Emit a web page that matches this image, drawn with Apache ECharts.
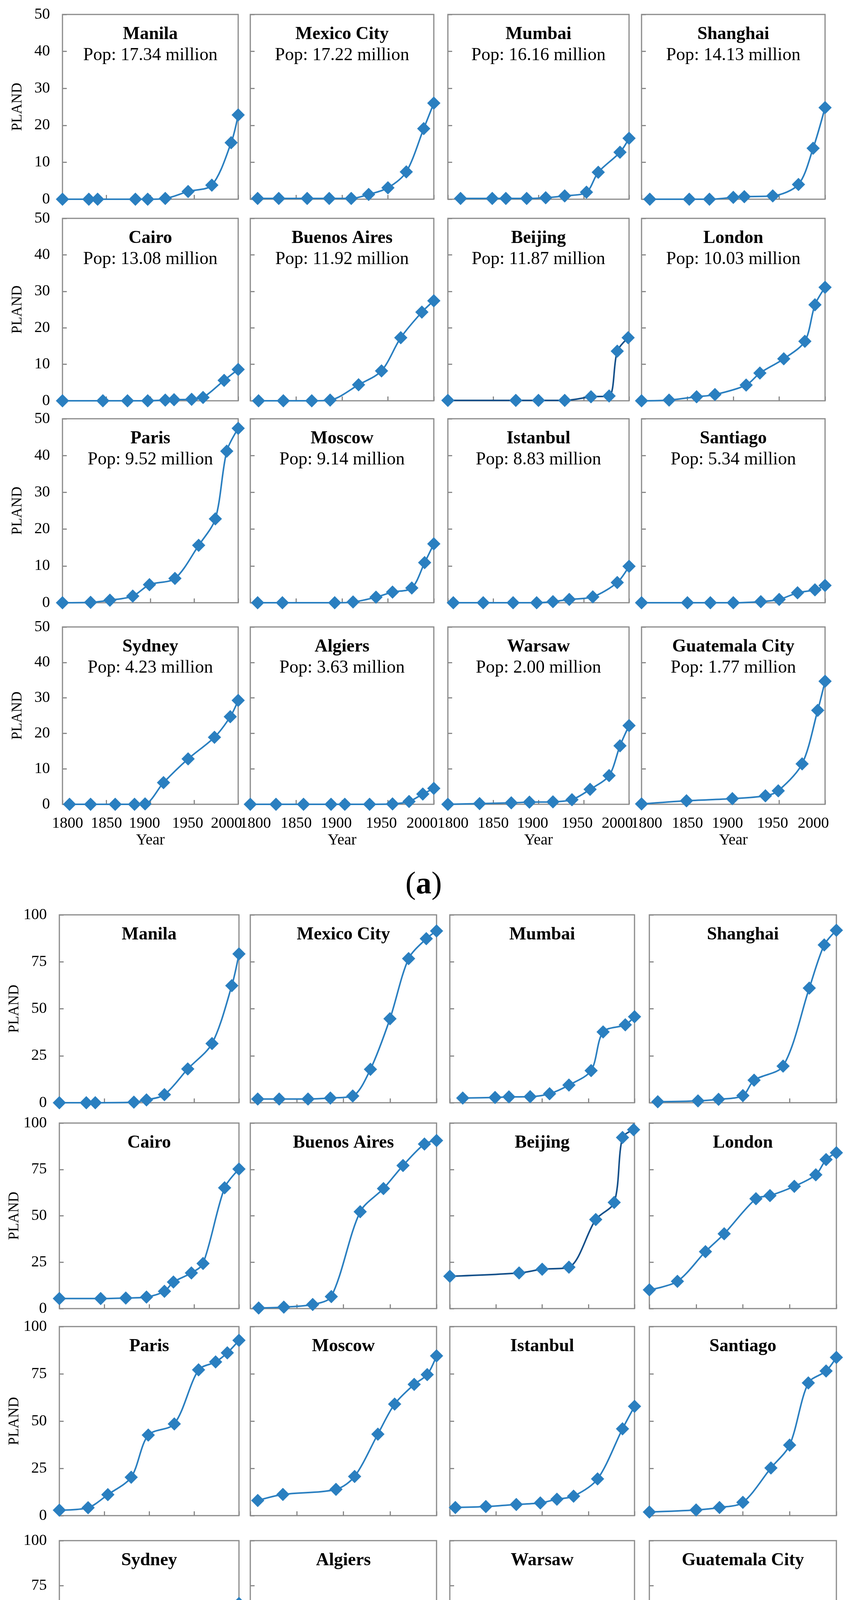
<!DOCTYPE html>
<html>
<head>
<meta charset="utf-8">
<title>PLAND by city</title>
<script src="https://cdn.jsdelivr.net/npm/echarts@6/dist/echarts.min.js"></script>
<style>
html, body { margin: 0; padding: 0; background: #fff; }
#chart { width: 2182px; height: 4659px; }
</style>
</head>
<body>
<div id="chart"></div>
<script>
// city names and population (panel a subtitles)
var cityNames = ['Manila', 'Mexico City', 'Mumbai', 'Shanghai', 'Cairo', 'Buenos Aires', 'Beijing', 'London',
    'Paris', 'Moscow', 'Istanbul', 'Santiago', 'Sydney', 'Algiers', 'Warsaw', 'Guatemala City'];
var cityPops = ['17.34', '17.22', '16.16', '14.13', '13.08', '11.92', '11.87', '10.03',
    '9.52', '9.14', '8.83', '5.34', '4.23', '3.63', '2.00', '1.77'];

// x tick labels / y ticks
var yearTicks = [1800, 1850, 1900, 1950, 2000];
var yTicksA = [0, 10, 20, 30, 40, 50];
var yTicksB = [0, 25, 50, 75, 100];

// years of each city, values for panel (a) and panel (b)
var manilaYears = [1800, 1830, 1840, 1883, 1897, 1917, 1943, 1970, 1992, 2000];
var manilaA = [0, 0, 0, 0, 0, 0.2, 2.1, 3.8, 15.3, 22.8];
var manilaB = [0, 0, 0, 0.3, 1.5, 4.3, 18, 31.5, 62.3, 79.2];

var mexicoYears = [1808, 1831, 1862, 1886, 1910, 1929, 1950, 1970, 1989, 2000];
var mexicoA = [0.2, 0.2, 0.2, 0.2, 0.2, 1.3, 3.1, 7.4, 19.1, 26];
var mexicoB = [2, 2, 2, 2.5, 3.6, 17.8, 44.7, 76.7, 87.3, 91.4];

var mumbaiYears = [1814, 1849, 1864, 1887, 1908, 1929, 1953, 1966, 1990, 2000];
var mumbaiA = [0.2, 0.2, 0.2, 0.2, 0.4, 0.9, 1.9, 7.3, 12.7, 16.5];
var mumbaiB = [2.5, 2.8, 3.1, 3.2, 4.8, 9.4, 17.1, 37.7, 41.5, 45.8];

var shanghaiYears = [1809, 1852, 1874, 1900, 1912, 1943, 1971, 1987, 2000];
var shanghaiA = [0, 0, 0, 0.5, 0.7, 0.9, 4, 13.8, 24.8];
var shanghaiB = [0.5, 1, 1.8, 3.8, 12, 19.5, 61, 84, 91.8];

var cairoYears = [1800, 1846, 1874, 1897, 1917, 1927, 1947, 1960, 1984, 2000];
var cairoA = [0, 0, 0, 0, 0.2, 0.3, 0.4, 0.9, 5.6, 8.6];
var cairoB = [5.4, 5.4, 5.7, 6.2, 9.3, 14.3, 19.2, 24.3, 65.1, 75.2];

var buenosYears = [1809, 1836, 1867, 1887, 1918, 1943, 1964, 1987, 2000];
var buenosA = [0, 0, 0, 0.2, 4.4, 8.2, 17.3, 24.3, 27.4];
var buenosB = [0.3, 0.8, 2.2, 6.5, 52.2, 64.7, 77.1, 88.7, 90.6];

var beijingYears = [1800, 1875, 1900, 1929, 1958, 1978, 1987, 1999];
var beijingA = [0.1, 0.1, 0.1, 0.1, 1.1, 1.3, 13.6, 17.3];
var beijingB = [17.4, 19.2, 21.2, 22.3, 48, 57.2, 92.2, 96.4];

var londonYears = [1800, 1830, 1860, 1880, 1914, 1929, 1955, 1978, 1989, 2000];
var londonA = [0, 0.2, 1.1, 1.7, 4.3, 7.6, 11.5, 16.3, 26.3, 31.1];
var londonB = [10.1, 14.7, 30.7, 40.3, 59.2, 60.9, 65.9, 72.1, 80.3, 84];

var parisYears = [1800, 1832, 1854, 1880, 1899, 1928, 1955, 1974, 1987, 2000];
var parisA = [0, 0.1, 0.7, 1.8, 4.9, 6.6, 15.6, 22.8, 41.2, 47.4];
var parisB = [2.9, 4.2, 11.1, 20.3, 42.6, 48.5, 77.1, 81.3, 86.1, 92.7];

var moscowYears = [1808, 1835, 1892, 1912, 1937, 1955, 1976, 1990, 2000];
var moscowA = [0, 0, 0, 0.2, 1.5, 2.9, 4, 10.9, 16];
var moscowB = [8, 11.2, 13.9, 20.7, 43.1, 59, 69.4, 74.6, 84.5];

var istanbulYears = [1806, 1839, 1872, 1898, 1916, 1934, 1960, 1987, 2000];
var istanbulA = [0, 0, 0, 0, 0.3, 0.9, 1.6, 5.5, 9.9];
var istanbulB = [4.3, 4.8, 5.9, 6.7, 8.7, 10.3, 19.4, 45.9, 57.8];

var santiagoYears = [1800, 1850, 1875, 1900, 1930, 1950, 1970, 1989, 2000];
var santiagoA = [0, 0, 0, 0, 0.3, 0.9, 2.7, 3.5, 4.7];
var santiagoB = [1.9, 3, 4.3, 7, 25.2, 37.3, 70.2, 76.5, 83.7];

var sydneyYears = [1808, 1832, 1860, 1882, 1894, 1915, 1943, 1973, 1991, 2000];
var sydneyA = [0, 0, 0, 0, 0.1, 6.1, 12.8, 18.9, 24.7, 29.3];
var sydneyB = [0, 0, 0.2, 1.4, 2, 36.3, 56.3, 58, 59.5, 65];

var algiersYears = [1800, 1828, 1858, 1888, 1903, 1930, 1955, 1973, 1988, 2000];
var algiersA = [0, 0, 0, 0, 0, 0, 0.1, 0.8, 2.9, 4.5];
var algiersB = [0, 0, 0, 0, 0.3, 1.5, 3.7, 7.5, 14.5, 24.6];

var warsawYears = [1800, 1835, 1870, 1890, 1916, 1937, 1957, 1978, 1990, 2000];
var warsawA = [0, 0.2, 0.4, 0.6, 0.7, 1.3, 4.2, 8.1, 16.5, 22.2];
var warsawB = [0.2, 1.9, 3, 3.5, 5.6, 10.3, 22.9, 35.1, 51.1, 61.7];

var guatemalaYears = [1800, 1849, 1899, 1935, 1949, 1975, 1992, 2000];
var guatemalaA = [0.1, 1, 1.6, 2.4, 3.8, 11.4, 26.5, 34.7];
var guatemalaB = [0.5, 2.2, 4.2, 5.9, 8.9, 25.6, 44.8, 52.7];

var cityYears = [manilaYears, mexicoYears, mumbaiYears, shanghaiYears, cairoYears, buenosYears, beijingYears, londonYears,
    parisYears, moscowYears, istanbulYears, santiagoYears, sydneyYears, algiersYears, warsawYears, guatemalaYears];
var cityA = [manilaA, mexicoA, mumbaiA, shanghaiA, cairoA, buenosA, beijingA, londonA,
    parisA, moscowA, istanbulA, santiagoA, sydneyA, algiersA, warsawA, guatemalaA];
var cityB = [manilaB, mexicoB, mumbaiB, shanghaiB, cairoB, buenosB, beijingB, londonB,
    parisB, moscowB, istanbulB, santiagoB, sydneyB, algiersB, warsawB, guatemalaB];

var FONT = '"Liberation Serif", "Times New Roman", serif';
var BLUE = '#2a7fc0';
var NAVY = '#14508a';
var FRAME = '#8a8a8a';

// panel frames in pixels: [left, right] per column, [top, bottom] per row
var colsA = [[160, 610], [641, 1111], [1147, 1611], [1643, 2113]];
var rowsA = [[37, 510], [559, 1026], [1072, 1543], [1605, 2059]];
var colsB = [[152, 612], [641, 1118], [1152, 1625], [1663, 2142]];
var rowsB = [[2342, 2823], [2875, 3350], [3396, 3880], [3944, 4404]];

// year labels are spread a bit unevenly in the original: padding nudges (left pad > 0, right pad < 0)
var labelNudge = [26, 0, -30, -34, -60];

var option = {
    backgroundColor: '#fff',
    animation: false,
    title: [],
    grid: [],
    xAxis: [],
    yAxis: [],
    series: [],
    graphic: []
};

function yearLabel(v) {
    var i = yearTicks.indexOf(v);
    return i < 0 ? String(v) : '{y' + i + '|' + v + '}';
}

function yearRich() {
    var rich = {};
    for (var i = 0; i < labelNudge.length; i++) {
        var n = labelNudge[i];
        rich['y' + i] = {
            color: '#000', fontFamily: FONT, fontSize: 40,
            padding: n >= 0 ? [0, 0, 0, n] : [0, -n, 0, 0]
        };
    }
    return rich;
}

function addPanel(part, k) {
    var isA = part === 'a';
    var cols = isA ? colsA : colsB;
    var rows = isA ? rowsA : rowsB;
    var ticks = isA ? yTicksA : yTicksB;
    var vals = isA ? cityA[k] : cityB[k];
    var c = cols[k % 4], r = rows[Math.floor(k / 4)];
    var isLeft = k % 4 === 0, isBottom = k >= 12;
    var idx = option.grid.length;

    option.grid.push({
        left: c[0], top: r[0], width: c[1] - c[0], height: r[1] - r[0],
        show: true, borderColor: FRAME, borderWidth: 3, backgroundColor: 'transparent'
    });
    option.xAxis.push({
        gridIndex: idx, type: 'value',
        min: yearTicks[0], max: yearTicks[yearTicks.length - 1], interval: yearTicks[1] - yearTicks[0],
        axisLine: { show: false },
        axisTick: { show: true, inside: true, length: 11, lineStyle: { color: FRAME, width: 3 } },
        splitLine: { show: false },
        axisLabel: {
            show: isBottom, color: '#000', fontFamily: FONT, fontSize: 40,
            margin: isA ? 29 : 33, interval: 0, showMinLabel: true, showMaxLabel: true, hideOverlap: false,
            formatter: yearLabel,
            rich: yearRich()
        },
        name: isBottom ? 'Year' : '', nameLocation: 'middle', nameGap: isA ? 72 : 78,
        nameTextStyle: { color: '#000', fontFamily: FONT, fontSize: 40 }
    });
    option.yAxis.push({
        gridIndex: idx, type: 'value',
        min: ticks[0], max: ticks[ticks.length - 1], interval: ticks[1] - ticks[0],
        axisLine: { show: false },
        axisTick: { show: true, inside: true, length: 11, lineStyle: { color: FRAME, width: 3 } },
        splitLine: { show: false },
        axisLabel: { show: isLeft, color: '#000', fontFamily: FONT, fontSize: 40, margin: 32 },
        name: isLeft ? 'PLAND' : '', nameLocation: 'middle', nameGap: 96,
        nameTextStyle: { color: '#000', fontFamily: FONT, fontSize: 37 }
    });
    option.title.push({
        text: cityNames[k],
        subtext: isA ? 'Pop: ' + cityPops[k] + ' million' : '',
        left: (c[0] + c[1]) / 2, top: r[0] + 28, textAlign: 'center', itemGap: 8, padding: 0,
        textStyle: { color: '#000', fontFamily: FONT, fontSize: 46, fontWeight: 'bold' },
        subtextStyle: { color: '#000', fontFamily: FONT, fontSize: 46 }
    });
    option.series.push({
        type: 'line', xAxisIndex: idx, yAxisIndex: idx,
        data: cityYears[k].map(function(y, i) { return [y, vals[i]]; }),
        symbol: 'diamond', symbolSize: 34, smooth: 0.3, clip: false,
        lineStyle: { color: cityNames[k] === 'Beijing' ? NAVY : BLUE, width: 4 },
        itemStyle: { color: BLUE }
    });
}

for (var k = 0; k < cityNames.length; k++) {
    addPanel('a', k);
}
for (var k2 = 0; k2 < cityNames.length; k2++) {
    addPanel('b', k2);
}

function partLabel(letter, y) {
    return {
        type: 'text', x: 1085, y: y,
        style: {
            text: '{n|(}{b|' + letter + '}{n|)}',
            align: 'center', verticalAlign: 'middle',
            rich: {
                n: { fontFamily: FONT, fontSize: 80, fill: '#000' },
                b: { fontFamily: FONT, fontSize: 80, fontWeight: 'bold', fill: '#000' }
            }
        }
    };
}
option.graphic.push(partLabel('a', 2266));
option.graphic.push(partLabel('b', 4604));

var myChart = echarts.init(document.getElementById('chart'), null, { renderer: 'canvas' });
myChart.setOption(option);
</script>
</body>
</html>
